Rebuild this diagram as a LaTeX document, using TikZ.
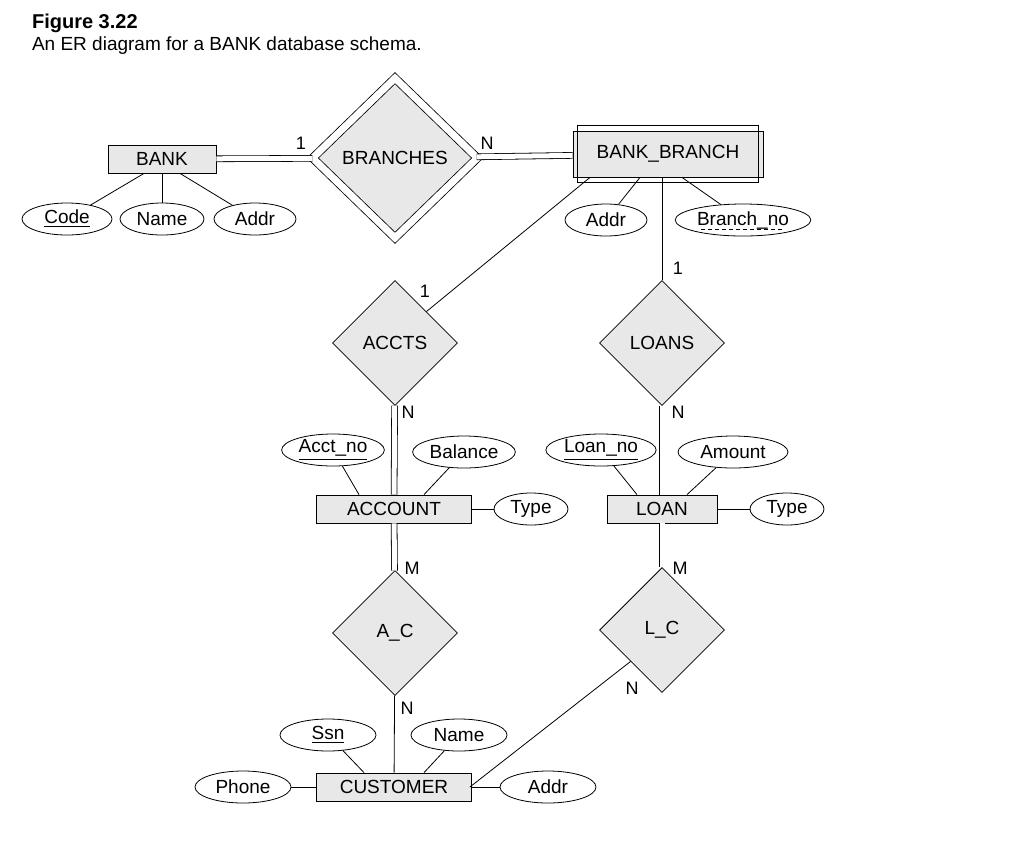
\documentclass[tikz,border=0pt]{standalone}
\usepackage{fontspec}
\setmainfont{Liberation Sans}
\usetikzlibrary{shapes.geometric}
\def\u{0.5pt}
\definecolor{boxgray}{RGB}{232,232,232}
\tikzset{
  entity/.style={draw, fill=boxgray, rectangle, minimum height=28*\u, inner xsep=6pt},
  weak/.style={entity},
  rel/.style={draw, fill=boxgray, diamond, minimum width=125*\u, minimum height=125*\u, inner sep=0pt},
  idrel/.style={rel, double, double distance=7*\u, minimum width=165*\u, minimum height=160*\u},
  attr/.style={draw, ellipse, fill=white, minimum height=32*\u, inner xsep=1pt, inner ysep=0pt},
  link/.style={draw},
  total/.style={draw, double, double distance=5*\u},
  card/.style={font=\fontsize{9}{10}\selectfont}
}
\begin{document}
\begin{tikzpicture}[x=\u, y=-\u, font=\fontsize{9.5}{11}\selectfont]
  \useasboundingbox (0,0) rectangle (1024,859);
  % caption
  \node[anchor=base west, font=\fontsize{10}{12}\selectfont\bfseries] (fig) at (25,28) {Figure 3.22};
  \node[anchor=base west] (cap) at (25,50) {An ER diagram for a BANK database schema.};

  % entities
  \node[entity, minimum width=108*\u] (bank) at (162,159) {BANK};
  \node[weak, minimum width=190*\u, minimum height=46*\u] (bb) at (668,154) {BANK\_BRANCH};
  \draw ([shift={(5*\u,5*\u)}]bb.north west) rectangle ([shift={(-5*\u,-5*\u)}]bb.south east);
  \node[entity, minimum width=155*\u] (account) at (394,509) {ACCOUNT};
  \node[entity, minimum width=110*\u] (loan) at (662,509) {LOAN};
  \node[entity, minimum width=155*\u] (cust) at (394,787) {CUSTOMER};

  % relationships
  \node[idrel] (branches) at (395,158) {BRANCHES};
  \node[rel] (accts) at (395,343) {ACCTS};
  \node[rel] (loans) at (662,343) {LOANS};
  \node[rel] (ac) at (395,633) {A\_C};
  \node[rel] (lc) at (662,630) {L\_C};

  % attributes
  \node[attr, minimum width=90*\u] (code) at (67,219) {\underline{Code}};
  \node[attr, minimum width=84*\u] (bname) at (162,219) {Name};
  \node[attr, minimum width=82*\u] (baddr) at (255,219) {Addr};
  \node[attr, minimum width=82*\u] (bbaddr) at (606,220) {Addr};
  \node[attr, minimum width=130*\u] (brno) at (743,220) {Branch\_no};
  \draw[dashed, dash pattern=on 2pt off 1.5pt] ([xshift=-42*\u, yshift=-9*\u]brno.center) -- ([xshift=42*\u, yshift=-9*\u]brno.center);
  \node[attr, minimum width=96*\u] (acctno) at (333,450) {\underline{Acct\_no}};
  \node[attr, minimum width=100*\u] (balance) at (464,452) {Balance};
  \node[attr, minimum width=74*\u] (atype) at (531,509) {Type};
  \node[attr, minimum width=96*\u] (loanno) at (601,450) {\underline{Loan\_no}};
  \node[attr, minimum width=110*\u] (amount) at (733,452) {Amount};
  \node[attr, minimum width=74*\u] (ltype) at (787,509) {Type};
  \node[attr, minimum width=96*\u] (ssn) at (328,735) {\underline{Ssn}};
  \node[attr, minimum width=96*\u] (cname) at (459,735) {Name};
  \node[attr, minimum width=96*\u] (phone) at (243,787) {Phone};
  \node[attr, minimum width=96*\u] (caddr) at (548,787) {Addr};

  % attribute links
  \draw (code) -- ([xshift=-18*\u]bank.south);
  \draw (bname) -- (bank);
  \draw (baddr) -- ([xshift=18*\u]bank.south);
  \draw (bbaddr) -- ([xshift=-28*\u]bb.south);
  \draw (brno) -- ([xshift=14*\u]bb.south);
  \draw (acctno) -- ([xshift=-35*\u]account.north);
  \draw (balance) -- ([xshift=30*\u]account.north);
  \draw (atype) -- (account);
  \draw (loanno) -- ([xshift=-25*\u]loan.north);
  \draw (amount) -- ([xshift=25*\u]loan.north);
  \draw (ltype) -- (loan);
  \draw (ssn) -- ([xshift=-30*\u]cust.north);
  \draw (cname) -- ([xshift=30*\u]cust.north);
  \draw (phone) -- (cust);
  \draw (caddr) -- (cust);

  % relationship links
  \draw[total] (bank) -- (branches);
  \draw[total] (branches) -- (bb);
  \draw[link] (accts.north east) -- ([xshift=-78*\u]bb.south);
  \draw[link] ([xshift=-6*\u]bb.south) -- (loans);
  \draw[total] (accts) -- (account);
  \draw[total] (loans) -- (loan);
  \draw[total] (account) -- (ac);
  \draw[total] (loan) -- (lc);
  \draw[link] (ac) -- (cust);
  \draw[link] (lc.south west) -- ([xshift=-2*\u]cust.east);

  % cardinalities
  \node[card] (c1) at (301,143) {1};
  \node[card] (c2) at (487,143) {N};
  \node[card] (c3) at (425,291) {1};
  \node[card] (c4) at (678,268) {1};
  \node[card] (c5) at (408,412) {N};
  \node[card] (c6) at (678,412) {N};
  \node[card] (c7) at (412,568) {M};
  \node[card] (c8) at (680,568) {M};
  \node[card] (c9) at (407,708) {N};
  \node[card] (c10) at (632,688) {N};
\end{tikzpicture}
\end{document}
